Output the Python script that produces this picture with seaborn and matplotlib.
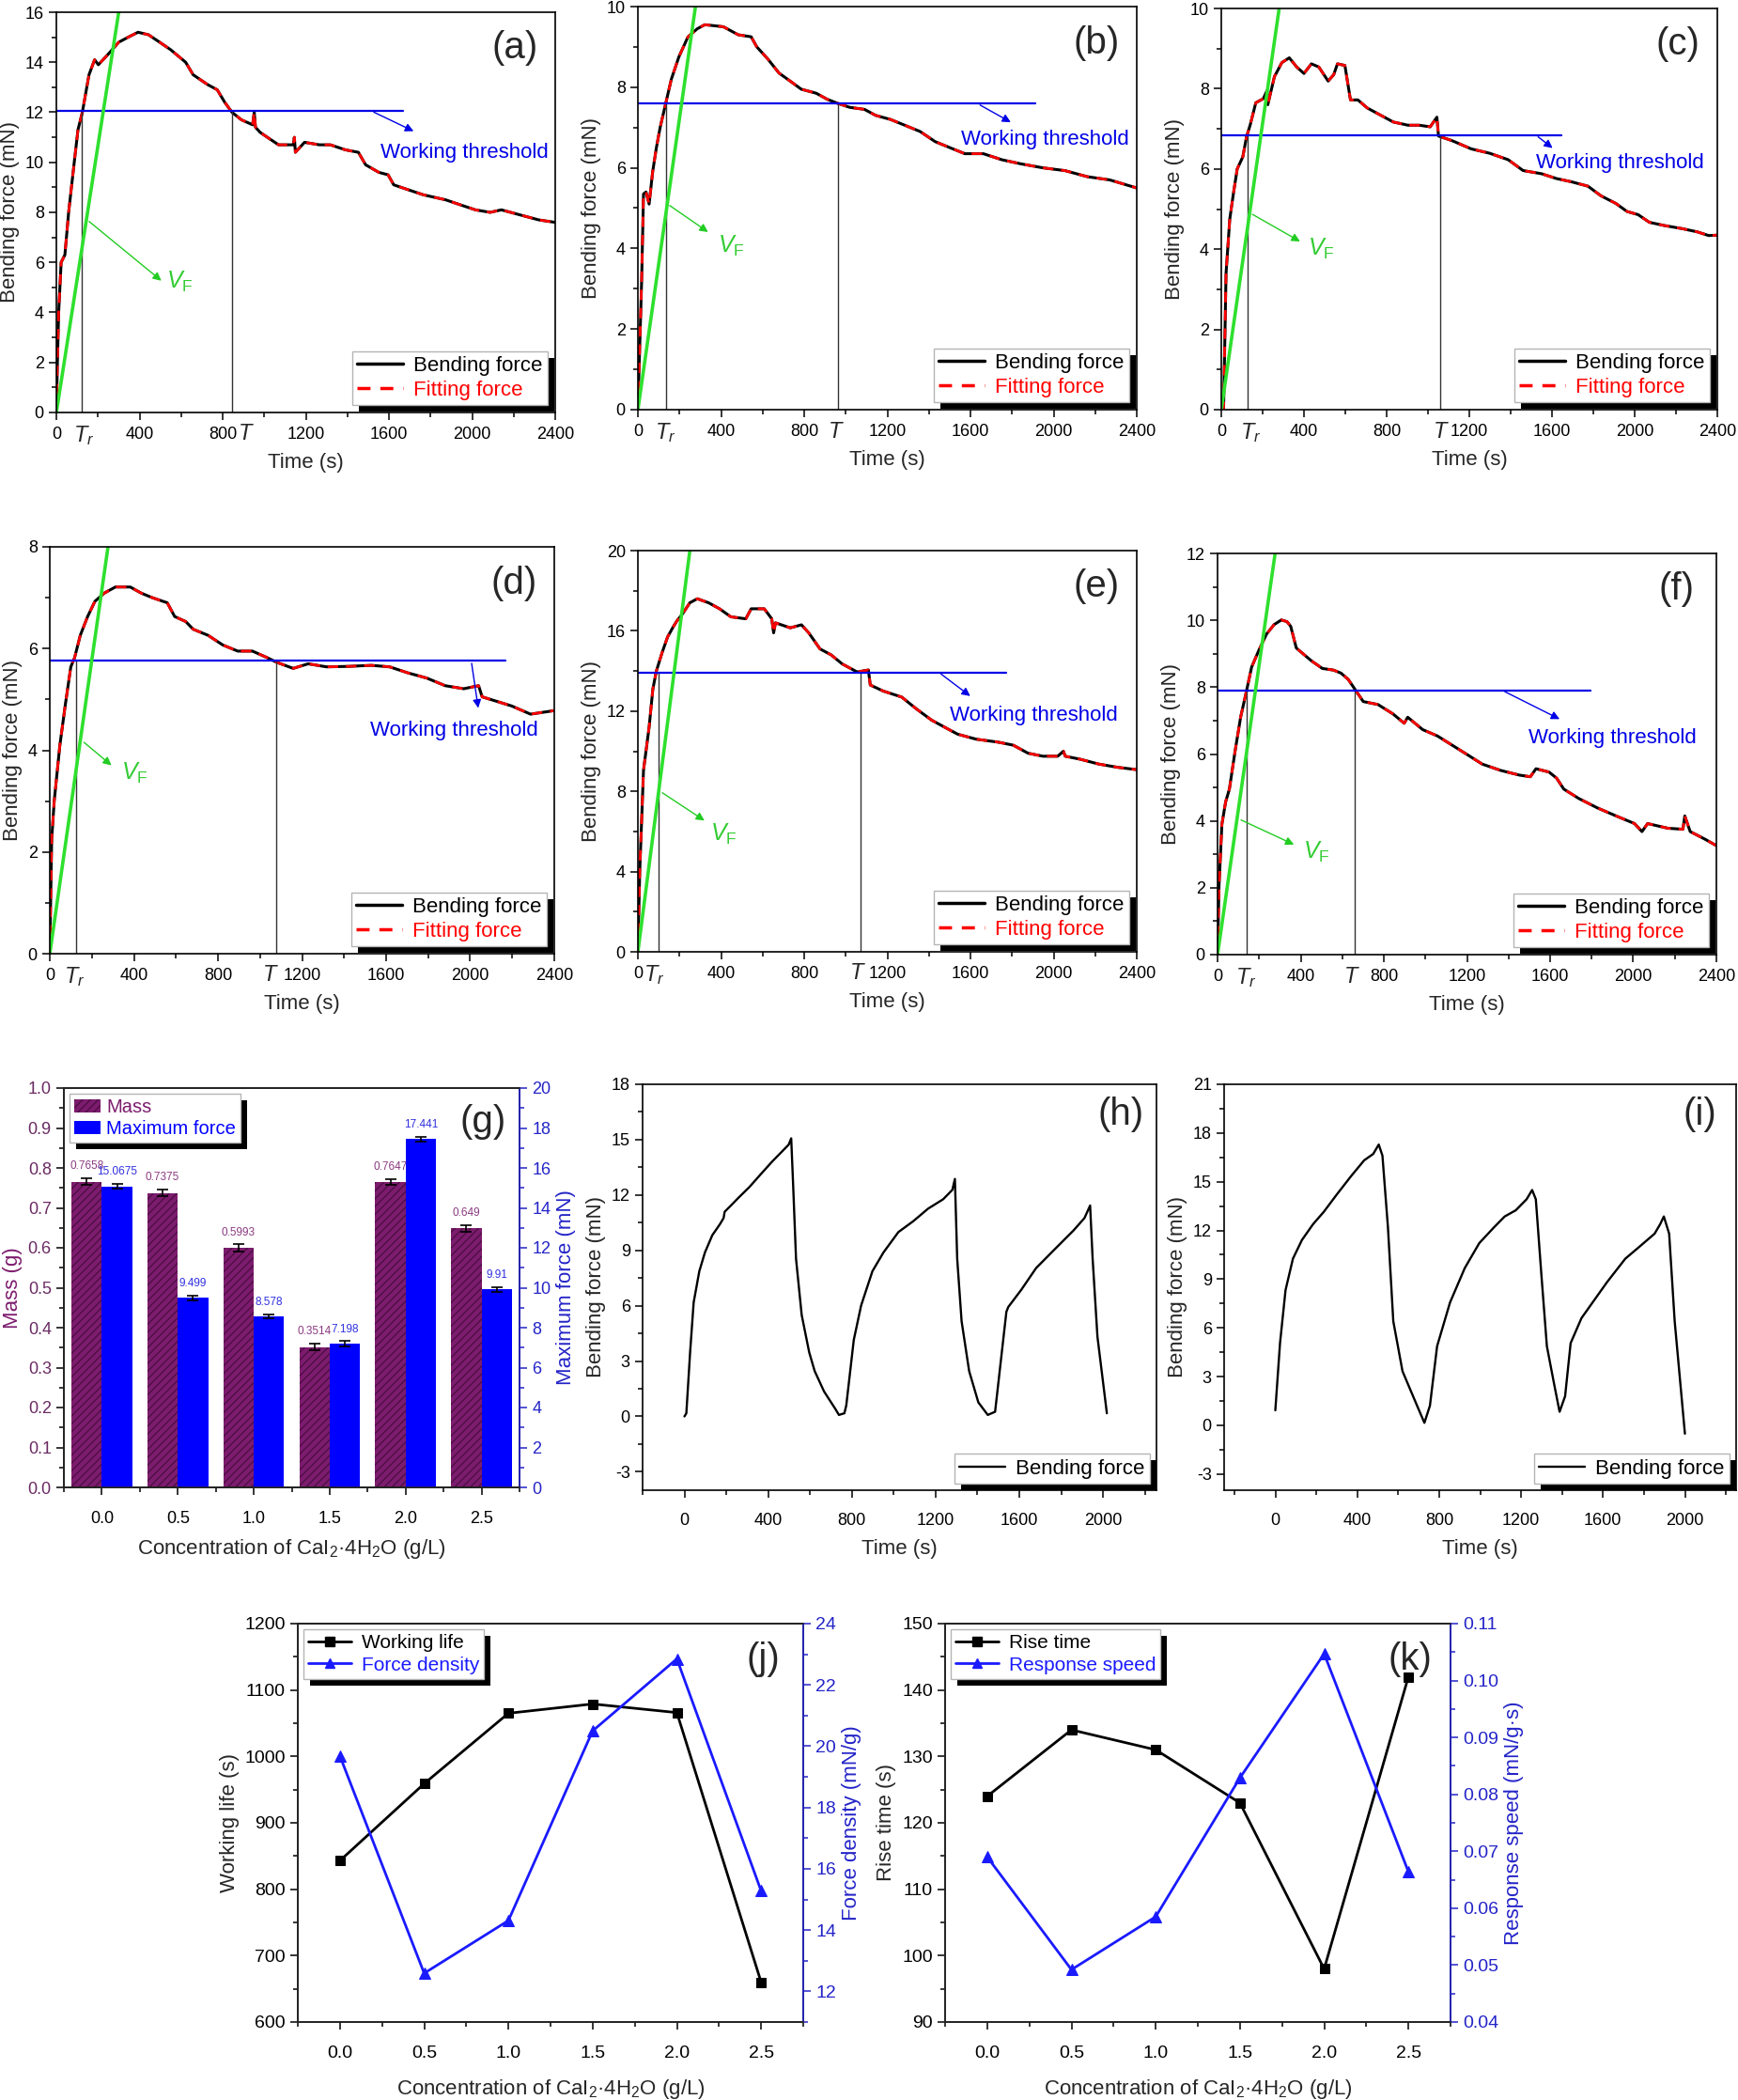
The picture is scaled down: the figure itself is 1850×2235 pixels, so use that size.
import matplotlib
matplotlib.use("Agg")
import matplotlib.pyplot as plt
import seaborn as sns
from matplotlib.lines import Line2D
from matplotlib.patches import Patch, Rectangle
from matplotlib.ticker import MultipleLocator, FormatStrFormatter
from matplotlib.transforms import IdentityTransform

# ---------------- data ----------------
# (a)-(f): bending force (mN) vs time (s)
a_t = [0, 5, 11, 23, 41, 59, 86, 104, 125, 157, 184, 202, 247, 300, 345, 393, 443, 497, 550, 622,
       658, 729, 774, 810, 845, 890, 944, 952, 958, 980, 1015, 1069, 1140, 1145, 1150, 1194, 1265, 1318, 1390, 1453,
       1488, 1551, 1596, 1623, 1694, 1766, 1873, 1944, 2016, 2087, 2141, 2230, 2320, 2400]
a_f = [0, 2.0, 4.0, 6.0, 6.3, 8.0, 10.0, 11.3, 12.0, 13.5, 14.1, 13.9, 14.3, 14.8, 15.0, 15.2, 15.1, 14.8, 14.5, 14.0,
       13.5, 13.1, 12.9, 12.4, 12.0, 11.7, 11.5, 12.0, 11.4, 11.2, 11.0, 10.7, 10.7, 11.0, 10.4, 10.8, 10.7, 10.7, 10.5, 10.4,
       9.9, 9.6, 9.5, 9.1, 8.9, 8.7, 8.5, 8.3, 8.1, 8.0, 8.1, 7.9, 7.7, 7.6]

b_t = [0, 9, 18, 27, 39, 54, 71, 89, 107, 134, 161, 197, 241, 286, 322, 411, 483, 545, 572, 625,
       679, 733, 786, 858, 911, 961, 1019, 1090, 1144, 1215, 1287, 1358, 1430, 1501, 1573, 1662, 1751, 1841, 1948, 2055,
       2162, 2270, 2400]
b_f = [0, 1.6, 3.2, 5.35, 5.4, 5.1, 5.9, 6.5, 7.0, 7.6, 8.2, 8.75, 9.25, 9.45, 9.55, 9.5, 9.3, 9.25, 9.0, 8.7,
       8.35, 8.15, 7.95, 7.85, 7.7, 7.6, 7.5, 7.45, 7.3, 7.2, 7.05, 6.9, 6.65, 6.5, 6.35, 6.35, 6.2, 6.1, 6.0, 5.93,
       5.78, 5.7, 5.5]

c_t = [0, 11, 23, 41, 59, 77, 104, 122, 140, 167, 203, 221, 225, 257, 293, 329, 365, 400, 436, 472,
       517, 544, 562, 598, 625, 661, 706, 760, 832, 903, 957, 1011, 1043, 1051, 1119, 1209, 1299, 1388, 1460, 1550,
       1622, 1694, 1774, 1837, 1909, 1963, 2017, 2071, 2143, 2232, 2304, 2358, 2400]
c_f = [0, 0, 3.4, 4.75, 5.4, 6.0, 6.3, 6.8, 7.1, 7.65, 7.75, 7.95, 7.6, 8.3, 8.65, 8.77, 8.54, 8.38, 8.62, 8.54,
       8.19, 8.35, 8.62, 8.58, 7.72, 7.72, 7.52, 7.37, 7.17, 7.09, 7.09, 7.05, 7.29, 6.82, 6.7, 6.5, 6.39, 6.23, 5.96, 5.88,
       5.76, 5.68, 5.57, 5.33, 5.14, 4.94, 4.86, 4.67, 4.59, 4.51, 4.43, 4.34, 4.35]

d_t = [0, 9, 21, 48, 74, 100, 118, 145, 180, 215, 259, 312, 383, 435, 488, 559, 594, 647, 682, 753,
       823, 894, 964, 1035, 1079, 1158, 1229, 1317, 1423, 1529, 1617, 1705, 1793, 1881, 1969, 2040, 2057, 2128, 2198, 2287,
       2400]
d_f = [0, 2.25, 3.0, 4.1, 4.9, 5.64, 5.82, 6.26, 6.63, 6.93, 7.09, 7.21, 7.21, 7.09, 7.0, 6.9, 6.63, 6.53, 6.38, 6.26,
       6.07, 5.95, 5.95, 5.82, 5.73, 5.61, 5.7, 5.64, 5.65, 5.67, 5.64, 5.52, 5.42, 5.27, 5.21, 5.27, 5.05, 4.96, 4.87, 4.71,
       4.78]

e_t = [0, 9, 27, 54, 72, 89, 116, 143, 170, 188, 215, 250, 286, 340, 393, 447, 519, 545, 608, 644,
       653, 662, 733, 787, 822, 876, 930, 983, 1055, 1109, 1118, 1180, 1269, 1341, 1413, 1484, 1538, 1627, 1734, 1806,
       1877, 1949, 2020, 2047, 2056, 2128, 2217, 2306, 2400]
e_f = [0, 4.06, 9.05, 11.2, 13.1, 14.0, 14.9, 15.7, 16.2, 16.5, 16.85, 17.4, 17.6, 17.4, 17.1, 16.7, 16.6, 17.1, 17.1, 16.6,
       15.9, 16.4, 16.15, 16.3, 15.9, 15.1, 14.8, 14.35, 13.95, 14.05, 13.3, 13.0, 12.7, 12.1, 11.55, 11.15, 10.85, 10.6, 10.45, 10.3,
       9.9, 9.75, 9.75, 10.0, 9.75, 9.6, 9.36, 9.2, 9.08]

f_t = [0, 7, 21, 39, 57, 84, 111, 138, 164, 200, 236, 272, 307, 334, 352, 379, 415, 451, 504, 558,
       594, 629, 665, 701, 772, 844, 898, 915, 987, 1058, 1130, 1202, 1273, 1362, 1452, 1505, 1532, 1595, 1631, 1666,
       1738, 1827, 1917, 2006, 2042, 2069, 2167, 2239, 2248, 2274, 2346, 2400]
f_f = [0, 2.04, 3.9, 4.57, 4.95, 6.07, 7.1, 7.85, 8.6, 9.12, 9.59, 9.87, 10.01, 9.96, 9.82, 9.17, 8.98, 8.79, 8.56, 8.51,
       8.42, 8.23, 7.9, 7.57, 7.48, 7.2, 6.92, 7.1, 6.73, 6.54, 6.26, 5.98, 5.7, 5.51, 5.37, 5.32, 5.56, 5.46, 5.28, 4.95,
       4.67, 4.39, 4.15, 3.92, 3.68, 3.92, 3.78, 3.75, 4.15, 3.68, 3.45, 3.26]

panel_names = ["(a)", "(b)", "(c)", "(d)", "(e)", "(f)"]
panel_ymax = [16, 10, 10, 8, 20, 12]
tr_vals = [122, 136, 126, 123, 98, 141]          # rise time T_r (s)
T_vals = [845, 961, 1061, 1079, 1069, 662]       # working life T (s)
thr_vals = [12.05, 7.59, 6.84, 5.76, 13.93, 7.9]  # working threshold (mN)
thr_end = [1668, 1912, 1645, 2167, 1770, 1795]
vf_top_t = [300, 277, 280, 277, 250, 277]         # where the V_F tangent meets the top

# (h), (i): cyclic bending force
h_t = [0, 9, 27, 44, 71, 98, 133, 169, 187, 192, 222, 258, 311, 364, 418, 462, 498, 510, 519, 533,
       560, 596, 622, 667, 720, 738, 764, 773, 809, 844, 898, 951, 1022, 1093, 1164, 1236, 1280, 1292, 1303, 1324,
       1360, 1404, 1449, 1484, 1538, 1547, 1609, 1680, 1769, 1858, 1911, 1938, 1950, 1973, 2018]
h_f = [0, 0.17, 3.47, 6.18, 7.87, 8.89, 9.82, 10.41, 10.75, 11.09, 11.43, 11.85, 12.44, 13.12, 13.8, 14.31, 14.73, 15.07, 12.61, 8.55,
       5.5, 3.47, 2.46, 1.35, 0.42, 0.08, 0.17, 0.59, 4.15, 6.01, 7.87, 8.89, 9.99, 10.58, 11.26, 11.77, 12.28, 12.87, 8.55, 5.16,
       2.46, 0.76, 0.08, 0.25, 5.67, 5.93, 6.86, 8.04, 9.06, 10.07, 10.75, 11.43, 8.55, 4.32, 0.17]

i_t = [0, 23, 50, 86, 130, 184, 237, 300, 371, 434, 478, 505, 523, 550, 576, 621, 692, 728, 755, 790,
       853, 925, 996, 1067, 1120, 1174, 1227, 1254, 1272, 1299, 1326, 1361, 1388, 1415, 1442, 1495, 1549, 1620, 1709, 1781,
       1852, 1879, 1897, 1923, 1950, 2000]
i_f = [0.92, 5.06, 8.33, 10.26, 11.41, 12.38, 13.15, 14.21, 15.36, 16.32, 16.71, 17.29, 16.61, 12.18, 6.41, 3.33, 1.21, 0.15, 1.21, 4.87,
       7.56, 9.68, 11.22, 12.18, 12.86, 13.24, 13.92, 14.49, 13.92, 9.3, 4.87, 2.56, 0.83, 1.79, 5.06, 6.6, 7.56, 8.82, 10.26, 11.03,
       11.8, 12.38, 12.86, 11.8, 6.41, -0.52]

# (g), (j), (k): vs concentration of CaI2.4H2O
conc = [0.0, 0.5, 1.0, 1.5, 2.0, 2.5]
mass = [0.7658, 0.7375, 0.5993, 0.3514, 0.7647, 0.649]
mass_err = [0.008, 0.008, 0.009, 0.009, 0.008, 0.008]
max_force = [15.0675, 9.499, 8.578, 7.198, 17.441, 9.91]
max_force_err = [0.12, 0.12, 0.1, 0.12, 0.1, 0.1]
mass_txt = ["0.7658", "0.7375", "0.5993", "0.3514", "0.7647", "0.649"]
force_txt = ["15.0675", "9.499", "8.578", "7.198", "17.441", "9.91"]

working_life = [843, 959, 1065, 1079, 1066, 660]
force_density = [19.68, 12.59, 14.31, 20.5, 22.85, 15.28]
rise_time = [124, 134, 131, 123, 98, 142]
response_speed = [0.069, 0.0492, 0.0585, 0.0829, 0.1047, 0.0664]

# ---------------- layout (pixels in the 1850x2235 image) ----------------
force_rects = [(60, 591, 13, 439), (679, 1210, 7, 436), (1300, 1828, 9, 436),
               (53, 590, 582, 1015), (679, 1210, 586, 1013), (1296, 1827, 589, 1016)]
wt_arrows = [((1516, 12.05), (1730, 11.2)), ((1635, 7.59), (1805, 7.1)), ((1523, 6.84), (1613, 6.48)),
             ((2005, 5.76), (2040, 4.78)), ((1448, 13.93), (1609, 12.67)), ((1371, 7.9), (1657, 7.01))]
wt_text = [(1965, 10.4), (1960, 6.7), (1927, 6.15), (1925, 4.38), (1904, 11.78), (1899, 6.47)]
vf_arrows = [((148, 7.7), (515, 5.2)), ((143, 5.1), (348, 4.37)), ((140, 4.9), (392, 4.16)),
             ((153, 4.19), (303, 3.67)), ((107, 8.0), (331, 6.47)), ((102, 4.06), (379, 3.26))]
vf_text = [(529, 5.22), (384, 4.06), (418, 4.0), (339, 3.54), (349, 5.85), (411, 3.07)]
tr_lab = [130, 134, 140, 118, 80, 138]
T_lab = [912, 952, 1061, 1052, 1055, 647]

sns.set_theme(style="ticks")
plt.rcParams["font.family"] = ["Liberation Sans", "DejaVu Sans"]
plt.rcParams["mathtext.fontset"] = "custom"
plt.rcParams["mathtext.rm"] = "Liberation Sans"
plt.rcParams["mathtext.it"] = "Liberation Sans:italic"
plt.rcParams["mathtext.bf"] = "Liberation Sans:bold"
plt.rcParams["axes.unicode_minus"] = False
plt.rcParams["hatch.linewidth"] = 1.0

BLUE = "#0000e6"
AXBLUE = "#2424c8"
GREEN = "#2ee02e"
PURPLE = "#7d1c6e"
HATCH = "#4e0f45"
W, H = 1850, 2235

fig = plt.figure(figsize=(W / 100, H / 100), dpi=100)
boxed = []


def add_ax(rect):
    x0, x1, y0, y1 = rect
    return fig.add_axes([x0 / W, 1 - y1 / H, (x1 - x0) / W, (y1 - y0) / H])


def style(ax, fs=13, xpad=5):
    ax.tick_params(which="both", direction="out", top=False, right=False,
                   labelsize=fs, width=1.1, colors="black")
    ax.tick_params(which="major", length=6)
    ax.tick_params(which="minor", length=3.5)
    ax.tick_params(axis="x", which="major", pad=xpad)
    for s in ax.spines.values():
        s.set_linewidth(1.2)
        s.set_color("black")


def blue_right(ax2, fs=13):
    ax2.tick_params(axis="y", which="both", direction="out", labelsize=fs,
                    width=1.1, colors=AXBLUE)
    ax2.tick_params(axis="y", which="major", length=6)
    ax2.tick_params(axis="y", which="minor", length=3.5)
    ax2.spines["right"].set_color(AXBLUE)
    for s in ax2.spines.values():
        s.set_linewidth(1.2)


def legend(ax, handles, labels, colors, loc, fs=16, **kw):
    opts = dict(loc=loc, fontsize=fs, frameon=True, fancybox=False, framealpha=1,
                edgecolor="#b5b5b5", borderpad=0.25, labelspacing=0.2,
                handlelength=2.2, handletextpad=0.5, borderaxespad=0.35)
    opts.update(kw)
    leg = ax.legend(handles, labels, **opts)
    leg.get_frame().set_linewidth(1.0)
    for t, c in zip(leg.get_texts(), colors):
        t.set_color(c)
    boxed.append((ax, leg))
    return leg


def label(ax, txt, x=0.92, y=0.91, fs=29):
    ax.text(x, y, txt, transform=ax.transAxes, ha="center", va="center", fontsize=fs)


# ---------------- (a)-(f) ----------------
curves = [(a_t, a_f), (b_t, b_f), (c_t, c_f), (d_t, d_f), (e_t, e_f), (f_t, f_f)]
for k, (t, f) in enumerate(curves):
    ax = add_ax(force_rects[k])
    style(ax, xpad=5)
    sns.lineplot(x=t, y=f, ax=ax, sort=False, estimator=None, color="black", lw=2.2)
    sns.lineplot(x=t, y=f, ax=ax, sort=False, estimator=None, color="red", lw=2.0)
    ax.lines[-1].set_dashes([4, 3])
    ymax = panel_ymax[k]
    thr = thr_vals[k]
    ax.plot([tr_vals[k]] * 2, [0, thr], color="#333333", lw=1.0)
    ax.plot([T_vals[k]] * 2, [0, thr], color="#333333", lw=1.0)
    ax.plot([0, thr_end[k]], [thr, thr], color=BLUE, lw=1.6)
    ax.plot([0, vf_top_t[k]], [0, ymax], color=GREEN, lw=2.6)
    (sx, sy), (ex, ey) = wt_arrows[k]
    ax.annotate("", xy=(ex, ey), xytext=(sx, sy),
                arrowprops=dict(arrowstyle="-|>", color=BLUE, lw=1.0, mutation_scale=13))
    ax.text(*wt_text[k], "Working threshold", color=BLUE, fontsize=16, ha="center", va="center")
    (sx, sy), (ex, ey) = vf_arrows[k]
    ax.annotate("", xy=(ex, ey), xytext=(sx, sy),
                arrowprops=dict(arrowstyle="-|>", color="#22cc22", lw=1.0, mutation_scale=13))
    ax.text(*vf_text[k], r"$V_\mathrm{F}$", color="#33cc33", fontsize=18, ha="left", va="center")
    ax.annotate(r"$T_r$", xy=(tr_lab[k], 0), xycoords=("data", "axes fraction"),
                xytext=(0, -9), textcoords="offset points", ha="center", va="top", fontsize=17)
    ax.annotate(r"$T$", xy=(T_lab[k], 0), xycoords=("data", "axes fraction"),
                xytext=(0, -9), textcoords="offset points", ha="center", va="top", fontsize=17)
    ax.set_xlim(0, 2400)
    ax.set_ylim(0, ymax)
    ax.xaxis.set_major_locator(MultipleLocator(400))
    ax.xaxis.set_minor_locator(MultipleLocator(200))
    ystep = 4 if ymax == 20 else 2
    ax.yaxis.set_major_locator(MultipleLocator(ystep))
    ax.yaxis.set_minor_locator(MultipleLocator(ystep / 2))
    ax.set_xlabel("Time (s)", fontsize=16, labelpad=8)
    ax.set_ylabel("Bending force (mN)", fontsize=16, labelpad=4)
    label(ax, panel_names[k])
    legend(ax, [Line2D([], [], color="black", lw=2.5),
                Line2D([], [], color="red", lw=2.5, dashes=[4, 3])],
           ["Bending force", "Fitting force"], ["black", "red"], "lower right")

# ---------------- (g) ----------------
ax = add_ax((68, 553, 1158, 1583))
ax2 = ax.twinx()
style(ax, xpad=12)
blue_right(ax2)
bw = 0.2
ax.bar([c - bw / 2 for c in conc], mass, width=bw, color=PURPLE, edgecolor=HATCH, linewidth=0,
       hatch="////", yerr=mass_err, capsize=4,
       error_kw=dict(ecolor="black", elinewidth=1.2, capthick=1.2))
ax2.bar([c + bw / 2 for c in conc], max_force, width=bw, color="#0000ff", linewidth=0,
        yerr=max_force_err, capsize=4, error_kw=dict(ecolor="black", elinewidth=1.2, capthick=1.2))
for c, v, e, s in zip(conc, mass, mass_err, mass_txt):
    ax.annotate(s, xy=(c - bw / 2, v + e), xytext=(0, 5), textcoords="offset points",
                ha="center", va="bottom", fontsize=8.5, color="#8a3a80")
for c, v, e, s in zip(conc, max_force, max_force_err, force_txt):
    ax2.annotate(s, xy=(c + bw / 2, v + e), xytext=(0, 5), textcoords="offset points",
                 ha="center", va="bottom", fontsize=8.5, color="#3030e0")
ax.set_xlim(-0.25, 2.75)
ax.set_ylim(0, 1.0)
ax2.set_ylim(0, 20)
ax.set_xticks(conc)
ax.set_xticklabels([f"{c:.1f}" for c in conc])
ax.xaxis.set_minor_locator(MultipleLocator(0.25))
ax.yaxis.set_major_locator(MultipleLocator(0.1))
ax.yaxis.set_minor_locator(MultipleLocator(0.05))
ax.yaxis.set_major_formatter(FormatStrFormatter("%.1f"))
ax.tick_params(axis="y", labelcolor="#6a2a62")
ax2.yaxis.set_major_locator(MultipleLocator(2))
ax2.yaxis.set_minor_locator(MultipleLocator(1))
ax.set_ylabel("Mass (g)", fontsize=16, color=PURPLE, labelpad=4)
ax2.set_ylabel("Maximum force (mN)", fontsize=16, color=AXBLUE, labelpad=4)
ax.set_xlabel("Concentration of CaI$_2$·4H$_2$O (g/L)", fontsize=16, labelpad=8)
label(ax2, "(g)", x=0.92, y=0.915)
legend(ax2, [Patch(facecolor=PURPLE, edgecolor=HATCH, hatch="////", linewidth=0),
             Patch(facecolor="#0000ff", linewidth=0)],
       ["Mass", "Maximum force"], [PURPLE, "#0000ff"], "upper left", fs=14.5,
       handlelength=1.4, handleheight=0.65, handletextpad=0.3, borderaxespad=0.3)

# ---------------- (h), (i) ----------------
cyc = [((684, 1231, 1154, 1586), h_t, h_f, 18, "(h)", -200, 2255),
       ((1303, 1848, 1154, 1586), i_t, i_f, 21, "(i)", -250, 2250)]
for rect, t, f, ymax, name, x0, x1 in cyc:
    ax = add_ax(rect)
    style(ax, xpad=11)
    sns.lineplot(x=t, y=f, ax=ax, sort=False, estimator=None, color="black", lw=1.7)
    ax.set_xlim(x0, x1)
    ax.set_ylim(-4, ymax)
    ax.set_xticks([0, 400, 800, 1200, 1600, 2000])
    ax.xaxis.set_minor_locator(MultipleLocator(200))
    ax.yaxis.set_major_locator(MultipleLocator(3))
    ax.yaxis.set_minor_locator(MultipleLocator(1.5))
    ax.set_xlabel("Time (s)", fontsize=16, labelpad=8)
    ax.set_ylabel("Bending force (mN)", fontsize=16, labelpad=4)
    label(ax, name, x=0.93, y=0.925)
    legend(ax, [Line2D([], [], color="black", lw=1.7)], ["Bending force"], ["black"],
           "lower right", borderaxespad=0.3)

# ---------------- (j), (k) ----------------
pairs = [((317, 855, 1728, 2152), working_life, force_density, "(j)",
          "Working life", "Force density", "Working life (s)", "Force density (mN/g)",
          (600, 1200, 100, 50), (11, 24, 2, 1)),
         ((1006, 1544, 1728, 2152), rise_time, response_speed, "(k)",
          "Rise time", "Response speed", "Rise time (s)", "Response speed (mN/g·s)",
          (90, 150, 10, 5), (0.04, 0.11, 0.01, 0.005))]
for rect, left, right, name, l1, l2, yl1, yl2, lim1, lim2 in pairs:
    ax = add_ax(rect)
    ax2 = ax.twinx()
    style(ax, fs=14, xpad=12)
    blue_right(ax2, fs=14)
    sns.lineplot(x=conc, y=left, ax=ax, color="black", lw=2, marker="s", markersize=7,
                 markeredgecolor="black")
    sns.lineplot(x=conc, y=right, ax=ax2, color="#1a1aff", lw=2, marker="^", markersize=8,
                 markeredgecolor="#1a1aff")
    ax.set_xlim(-0.25, 2.75)
    ax.set_xticks(conc)
    ax.set_xticklabels([f"{c:.1f}" for c in conc])
    ax.xaxis.set_minor_locator(MultipleLocator(0.25))
    ax.set_ylim(lim1[0], lim1[1])
    ax.yaxis.set_major_locator(MultipleLocator(lim1[2]))
    ax.yaxis.set_minor_locator(MultipleLocator(lim1[3]))
    ax2.set_ylim(lim2[0], lim2[1])
    ax2.yaxis.set_major_locator(MultipleLocator(lim2[2]))
    ax2.yaxis.set_minor_locator(MultipleLocator(lim2[3]))
    if name == "(k)":
        ax2.yaxis.set_major_formatter(FormatStrFormatter("%.2f"))
    ax.set_ylabel(yl1, fontsize=16, labelpad=4)
    ax2.set_ylabel(yl2, fontsize=16, color=AXBLUE, labelpad=4)
    ax.set_xlabel("Concentration of CaI$_2$·4H$_2$O (g/L)", fontsize=16, labelpad=12)
    label(ax2, name, x=0.92, y=0.91)
    legend(ax2, [Line2D([], [], color="black", lw=2, marker="s", markersize=7),
                 Line2D([], [], color="#1a1aff", lw=2, marker="^", markersize=7)],
           [l1, l2], ["black", "#1a1aff"], "upper left", fs=15, borderaxespad=0.3)

# black drop shadow behind every legend box
fig.canvas.draw()
for ax, leg in boxed:
    bb = leg.get_window_extent()
    ax.add_artist(Rectangle((bb.x0 + 7, bb.y0 - 7), bb.width, bb.height,
                            transform=IdentityTransform(), facecolor="black",
                            edgecolor="none", zorder=leg.get_zorder() - 0.5, clip_on=False))

fig.savefig("out.png", dpi=100)
